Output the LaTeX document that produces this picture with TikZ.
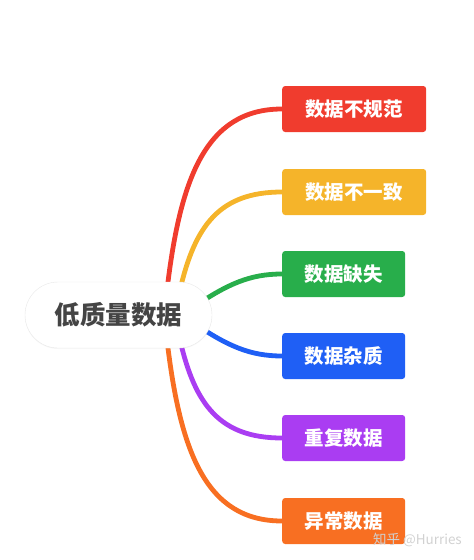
\documentclass[tikz,border=0pt]{standalone}
\usepackage{fontspec}
\newfontfamily\cjk{Noto Sans CJK SC}
\usetikzlibrary{shadows}
\definecolor{cred}{HTML}{F03C2E}
\definecolor{cyellow}{HTML}{F5B42A}
\definecolor{cgreen}{HTML}{28AE4B}
\definecolor{cblue}{HTML}{1F5FF5}
\definecolor{cpurple}{HTML}{AA3DF2}
\definecolor{corange}{HTML}{F86F22}
\definecolor{ctext}{HTML}{444444}
\tikzset{
  leaf/.style={fill=#1, rounded corners=3pt, minimum height=46pt, inner sep=0pt, anchor=west,
    text=white, font=\cjk\bfseries\fontsize{19.5}{20}\selectfont},
  branch/.style={draw=#1, line width=4.8pt},
  rootbox/.style={draw=black!9, fill=white, rounded corners=33pt, minimum width=187pt, minimum height=66pt,
    inner sep=0pt, text=ctext, font=\cjk\bfseries\fontsize{25.5}{26}\selectfont,
    drop shadow={shadow xshift=0pt, shadow yshift=-1pt, opacity=0.06}}
}
\begin{document}
\begin{tikzpicture}[x=1pt,y=-1pt]
\useasboundingbox (0,0) rectangle (474,560);
% leaves
\node[leaf=cred, minimum width=144pt] (l1) at (282,109) {数据不规范};
\node[leaf=cyellow, minimum width=144pt] (l2) at (282,192) {数据不一致};
\node[leaf=cgreen, minimum width=123pt] (l3) at (282,274) {数据缺失};
\node[leaf=cblue, minimum width=123pt] (l4) at (282,356) {数据杂质};
\node[leaf=cpurple, minimum width=123pt] (l5) at (282,438) {重复数据};
\node[leaf=corange, minimum width=123pt] (l6) at (282,521) {异常数据};
% branch starts (hidden behind root)
\coordinate (s1) at (167,290);
\coordinate (s2) at (180,290);
\coordinate (s3) at (195,306);
\coordinate (s4) at (195,324);
\coordinate (s5) at (180,340);
\coordinate (s6) at (167,340);
\draw[branch=cred] (s1) .. controls (180,180) and (205,109) .. (l1.west);
\draw[branch=cyellow] (s2) .. controls (195,225) and (220,192) .. (l2.west);
\draw[branch=cgreen] (s3) .. controls (228,284) and (250,274) .. (l3.west);
\draw[branch=cblue] (s4) .. controls (228,346) and (250,356) .. (l4.west);
\draw[branch=cpurple] (s5) .. controls (195,405) and (220,438) .. (l5.west);
\draw[branch=corange] (s6) .. controls (180,450) and (205,521) .. (l6.west);
% root
\node[rootbox] (root) at (118.5,315) {低质量数据};
% watermark
\node[text=black!18, font=\cjk\fontsize{13.5}{14}\selectfont, anchor=east, inner sep=0pt] (wm) at (462,540) {知乎 @Hurries};
\end{tikzpicture}
\end{document}
